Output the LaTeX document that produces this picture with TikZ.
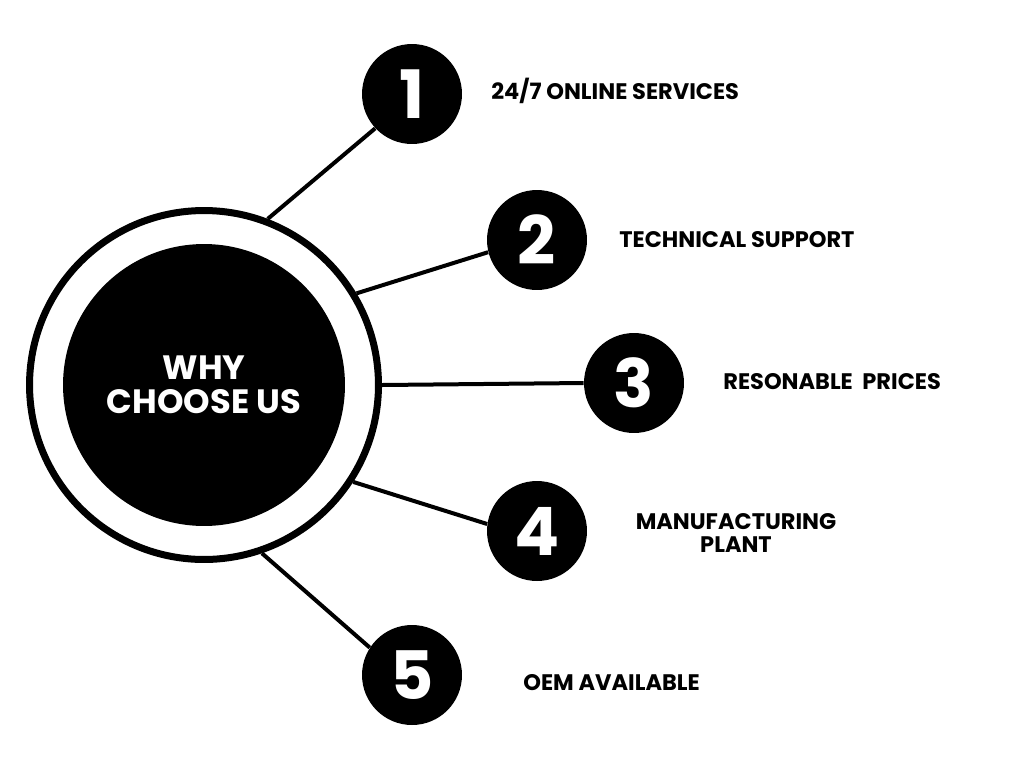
\documentclass[tikz,border=0pt]{standalone}
\usepackage{fontspec}
\setmainfont{Poppins}
\usepackage{tikz}

\begin{document}
\begin{tikzpicture}[
  x=0.02cm, y=-0.02cm,
  font=\bfseries,
  ring/.style={circle, draw=black, line width=0.14cm, minimum size=6.98cm, inner sep=0pt},
  hub/.style={circle, fill=black, minimum size=5.64cm, inner sep=0pt, align=center,
              text=white, font=\fontsize{19.2}{19.5}\selectfont\bfseries},
  num/.style={circle, fill=black, minimum size=2cm, inner sep=0pt, text=white,
              font=\fontsize{38}{38}\selectfont\bfseries},
  lbl/.style={anchor=west, inner sep=0pt, font=\fontsize{12.8}{13}\selectfont\bfseries},
  spoke/.style={line width=0.08cm, draw=black},
]
\useasboundingbox (0,0) rectangle (1024,768);

\node[ring] (outer) at (204,385) {};
\node[hub] (hub) at (204,385) {WHY\\CHOOSE US};

\node[num] (n1) at (412,94) {1};
\node[num] (n2) at (537,240) {2};
\node[num] (n3) at (634,383) {3};
\node[num] (n4) at (537,531) {4};
\node[num] (n5) at (412,675) {5};

\node[lbl] (l1) at (491,91) {24/7 ONLINE SERVICES};
\node[lbl] (l2) at (619,240) {TECHNICAL SUPPORT};
\node[lbl] (l3) at (723,382) {RESONABLE\ \ PRICES};
\node[lbl, anchor=center, align=center] (l4) at (736,533) {MANUFACTURING\\PLANT};
\node[lbl] (l5) at (523,683) {OEM AVAILABLE};

\draw[spoke] (outer.69) -- (n1.223);
\draw[spoke] (outer.31) -- (n2.194);
\draw[spoke] (outer.0) -- (n3.180);
\draw[spoke] (outer.-33) -- (n4.172);
\draw[spoke] (outer.-71) -- (n5.147);
\end{tikzpicture}
\end{document}
